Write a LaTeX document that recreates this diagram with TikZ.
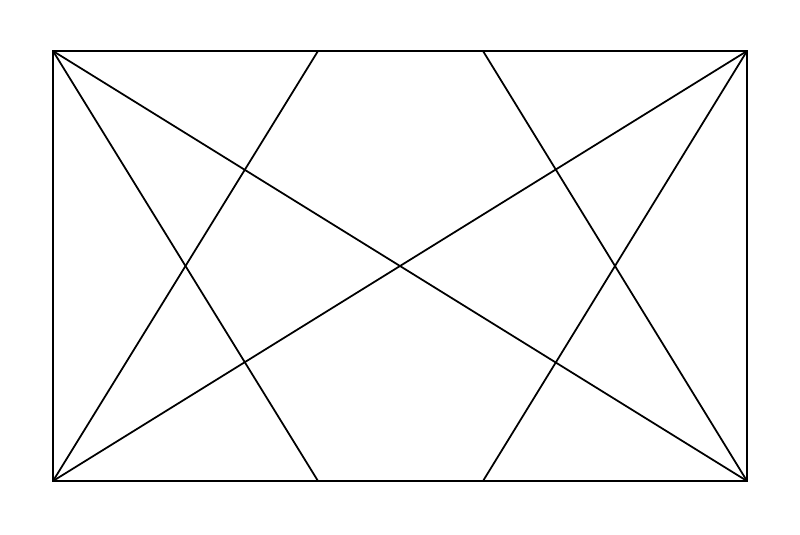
\documentclass[tikz,border=0pt]{standalone}
\begin{document}
\begin{tikzpicture}[x=0.02cm, y=-0.02cm,
		frame/.style={draw=black, line width=1.1pt},
		guide/.style={draw=black, line width=1pt}
		]
		
		\useasboundingbox[fill=white] (0, 0) rectangle (800, 534);
		
		% ---- ESQUINAS ----
		\coordinate (tl) at (53, 51);
		\coordinate (tr) at (747, 51);
		\coordinate (bl) at (53, 481);
		\coordinate (br) at (747, 481);
		
		% ---- PUNTOS EN LOS LADOS ----
		\coordinate (t1) at (318, 51);
		\coordinate (t2) at (483, 51);
		\coordinate (b1) at (318, 481);
		\coordinate (b2) at (483, 481);
		
		% ---- DIAGONALES ----
		\path [guide] (tl) -- (br);
		\path [guide] (tr) -- (bl);
		
		% ---- PERPENDICULARES ----
		\path [guide] (tl) -- (b1);
		\path [guide] (t1) -- (bl);
		\path [guide] (t2) -- (br);
		\path [guide] (tr) -- (b2);
		
		% ---- MARCO ----
		\draw [frame] (tl) rectangle (br);
		
	\end{tikzpicture}
\end{document}
